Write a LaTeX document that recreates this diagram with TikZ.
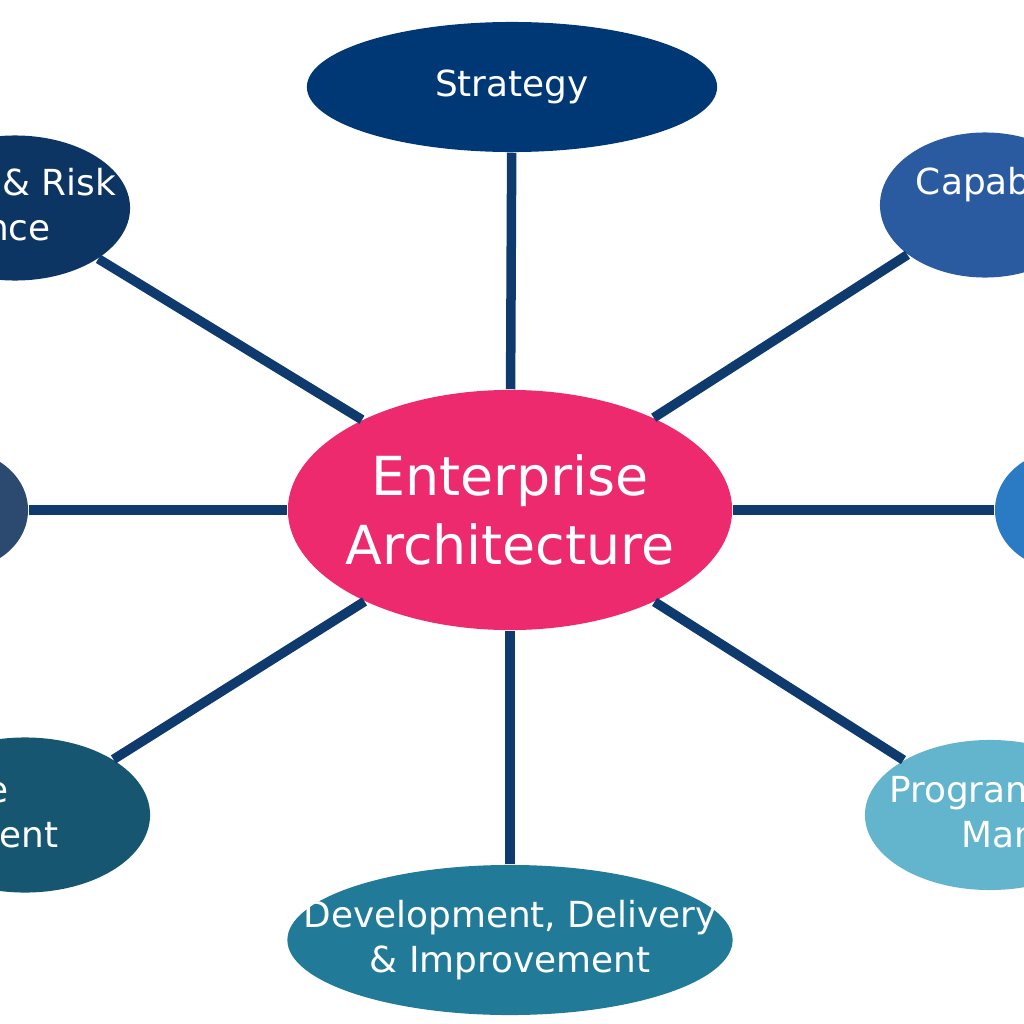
\documentclass[tikz,border=0pt]{standalone}
\usepackage{fontspec}
\setmainfont{DejaVu Sans}
\usetikzlibrary{shapes.geometric}
\definecolor{cline}{HTML}{0E3A6E}
\definecolor{cstrat}{HTML}{003876}
\definecolor{ctl}{HTML}{0D3563}
\definecolor{ctr}{HTML}{2A5AA0}
\definecolor{cl}{HTML}{2C4A70}
\definecolor{cr}{HTML}{2A7BC4}
\definecolor{cbl}{HTML}{175670}
\definecolor{cbr}{HTML}{62B5CC}
\definecolor{cb}{HTML}{227A99}
\definecolor{cc}{HTML}{EE2A6E}
\begin{document}
\begin{tikzpicture}[x=0.01cm,y=-0.01cm,
  el/.style={ellipse,inner sep=0pt},
  txt/.style={text=white,align=center,inner sep=0pt,font=\fontsize{10.2}{13}\selectfont},
  conn/.style={draw=cline,line width=0.95mm}]
\useasboundingbox (0,0) rectangle (1024,1024);
\clip (0,0) rectangle (1024,1024);
\node[el,fill=cc,minimum width=4.44cm,minimum height=2.4cm] (c) at (510,510) {};
\node[el,fill=cstrat,minimum width=4.1cm,minimum height=1.3cm] (s) at (512,87) {};
\node[el,fill=ctl,minimum width=2.3cm,minimum height=1.45cm] (tl) at (15,208) {};
\node[el,fill=ctr,minimum width=2.1cm,minimum height=1.45cm] (tr) at (985,205) {};
\node[el,fill=cl,minimum width=1.4cm,minimum height=1.2cm] (l) at (-42,510) {};
\node[el,fill=cr,minimum width=1.4cm,minimum height=1.2cm] (r) at (1065,510) {};
\node[el,fill=cbl,minimum width=2.5cm,minimum height=1.55cm] (bl) at (25,815) {};
\node[el,fill=cbr,minimum width=2.5cm,minimum height=1.5cm] (br) at (990,815) {};
\node[el,fill=cb,minimum width=4.45cm,minimum height=1.5cm] (b) at (510,940) {};
\draw[conn] (c) -- (s);
\draw[conn] (c) -- (b);
\draw[conn] (c) -- (l);
\draw[conn] (c) -- (r);
\draw[conn] (c) -- (tl);
\draw[conn] (c) -- (tr);
\draw[conn] (c) -- (bl);
\draw[conn] (c) -- (br);
\node[txt,font=\fontsize{15.3}{19.5}\selectfont] (tc) at (c.center) {Enterprise\\Architecture};
\node[txt] (ts) at (s.center) {Strategy};
\node[txt] (ttl) at (-55,208) {Governance \& Risk\\Compliance};
\node[txt] (ttr) at (1105,207) {Capability \& Portfolio\\Planning};
\node[txt] (tbl) at (-60,815) {Change\\Management};
\node[txt] (tbr) at (1080,815) {Programme \& Project\\Management};
\node[txt] (tb) at (b.center) {Development, Delivery\\\& Improvement};
\end{tikzpicture}
\end{document}
